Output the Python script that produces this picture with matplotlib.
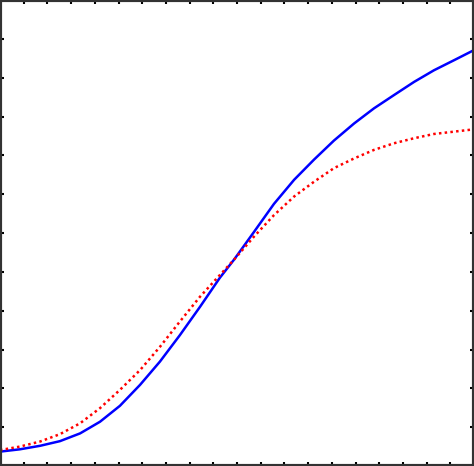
import matplotlib
matplotlib.use("Agg")
import matplotlib.pyplot as plt

# Data (x in 0..20, y in 0..12)
x_vals = [0.00, 0.84, 1.69, 2.53, 3.38, 4.22, 5.06, 5.91, 6.75, 7.59, 8.44, 9.28,
          9.87, 10.72, 11.56, 12.41, 13.25, 14.09, 14.94, 15.78, 16.62, 17.47,
          18.31, 19.16, 20.00]
blue_y = [0.37, 0.43, 0.52, 0.64, 0.84, 1.14, 1.55, 2.09, 2.69, 3.37, 4.10, 4.85,
          5.31, 6.03, 6.75, 7.37, 7.89, 8.38, 8.82, 9.21, 9.55, 9.89, 10.19, 10.45, 10.71]
red_y = [0.41, 0.50, 0.63, 0.82, 1.10, 1.49, 1.96, 2.47, 3.07, 3.72, 4.36, 4.92,
         5.31, 5.91, 6.46, 6.94, 7.32, 7.67, 7.92, 8.14, 8.31, 8.44, 8.55, 8.61, 8.67]

x_ticks = list(range(1, 20))
y_ticks = list(range(1, 12))

fig = plt.figure(figsize=(4.74, 4.66), dpi=100)
ax = fig.add_axes([0, 0, 1, 1])

ax.plot(x_vals, blue_y, color="#0000ff", lw=1.8, solid_joinstyle="round")
ax.plot(x_vals, red_y, color="#ff0000", lw=1.8, linestyle=(0, (1, 1.3)), dash_capstyle="butt")

ax.set_xlim(0, 20)
ax.set_ylim(0, 12)
ax.set_xticks(x_ticks)
ax.set_yticks(y_ticks)
ax.tick_params(direction="in", length=3, width=1.5, top=True, right=True,
               labelbottom=False, labelleft=False, color="black")
for s in ax.spines.values():
    s.set_linewidth(3)
    s.set_color("#333333")

fig.savefig("out.png", dpi=100)
